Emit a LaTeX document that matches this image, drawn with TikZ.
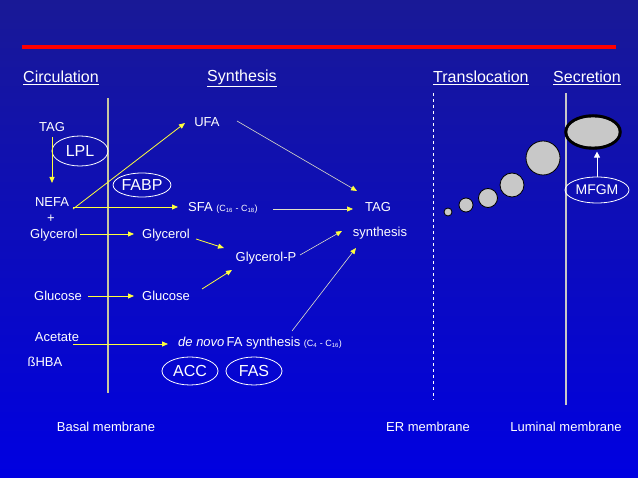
\documentclass[tikz,border=0pt]{standalone}
\usepackage{fontspec}
\setmainfont{Liberation Sans}
\usetikzlibrary{arrows.meta,shapes.geometric}
\definecolor{ylw}{RGB}{255,255,60}
\definecolor{lgray}{RGB}{200,200,200}
\definecolor{mem}{RGB}{200,200,160}
\definecolor{lline}{RGB}{225,225,200}
\begin{document}
\begin{tikzpicture}[x=1pt,y=-1pt,
  txt/.style={text=white,font=\fontsize{13}{15}\selectfont,inner sep=0pt},
  hdr/.style={text=white,font=\fontsize{16}{18}\selectfont,inner sep=0pt,anchor=west},
  enz/.style={draw=white,ellipse,thick,text=white,font=\fontsize{16}{18}\selectfont,inner sep=0pt},
  yarr/.style={draw=ylw,-{Triangle[length=6pt,width=5pt]},line width=0.8pt},
  garr/.style={draw=lline,-{Triangle[length=6pt,width=5pt,color=ylw]},line width=0.6pt},
  drop/.style={draw=black,fill=lgray,line width=0.8pt}]
\useasboundingbox (0,0) rectangle (638,478);
\shade[top color={rgb,255:red,25;green,25;blue,150},bottom color={rgb,255:red,0;green,0;blue,225}] (0,0) rectangle (638,478);
\draw[red,line width=4pt] (22,47) -- (616,47);
% headers
\node[hdr] (hc) at (23,78) {\underline{Circulation}};
\node[hdr] (hs) at (207,78) {\underline{Synthesis}};
\node[hdr] (ht) at (433,78) {\underline{Translocation}};
\node[hdr] (hse) at (553,78) {\underline{Secretion}};
% membranes
\draw[mem,line width=2.5pt] (108,98) -- (108,393);
\draw[white,dashed,line width=0.6pt] (433,93) -- (433,400);
\draw[lgray,line width=2.5pt] (566,93) -- (566,405);
% circulation
\node[txt] (tag) at (52,127) {TAG};
\node[enz,minimum width=56pt,minimum height=30pt] (lpl) at (80,151) {LPL};
\node[txt] (nefa) at (52,202) {NEFA};
\node[txt] (plus) at (51,219) {+};
\node[txt] (gly1) at (54,235) {Glycerol};
\node[txt] (glu1) at (58,296) {Glucose};
\node[txt] (ace) at (57,337) {Acetate};
\node[txt] (hba) at (45,362) {ßHBA};
\node[enz,minimum width=56pt,minimum height=24pt] (fabp) at (142,185) {FABP};
% synthesis
\node[txt] (ufa) at (207,122) {UFA};
\node[txt,anchor=west] (sfa) at (188,208) {SFA {\fontsize{9}{10}\selectfont(C\textsubscript{16} - C\textsubscript{18})}};
\node[txt] (tag2) at (378,207) {TAG};
\node[txt] (syn) at (380,233) {synthesis};
\node[txt] (gly2) at (166,235) {Glycerol};
\node[txt] (glyp) at (266,258) {Glycerol-P};
\node[txt] (glu2) at (166,296) {Glucose};
\node[txt,anchor=west] (dn) at (178,343) {\itshape de novo\upshape\,FA synthesis {\fontsize{9}{10}\selectfont(C\textsubscript{4} - C\textsubscript{16})}};
\node[enz,minimum width=56pt,minimum height=28pt] (acc) at (190,371) {ACC};
\node[enz,minimum width=56pt,minimum height=28pt] (fas) at (254,371) {FAS};
% coordinates
\coordinate (t0) at (52,137); \coordinate (t1) at (52,183);
\coordinate (n0) at (73,209); \coordinate (n1) at (73,207);
\coordinate (u1) at (185,123); \coordinate (s1) at (178,207);
\coordinate (g0) at (80,234); \coordinate (g1) at (134,234);
\coordinate (c0) at (88,296); \coordinate (c1) at (134,296);
\coordinate (a0) at (73,344); \coordinate (a1) at (168,344);
\coordinate (g2) at (196,239); \coordinate (g3) at (224,248);
\coordinate (c2) at (202,289); \coordinate (c3) at (232,270);
\coordinate (u2) at (237,121); \coordinate (u3) at (357,191);
\coordinate (s2) at (273,209); \coordinate (s3) at (353,209);
\coordinate (p0) at (300,255); \coordinate (p1) at (342,231);
\coordinate (d0) at (292,331); \coordinate (d1) at (356,248);
\draw[yarr] (t0) -- (t1);
\draw[yarr] (n0) -- (u1);
\draw[yarr] (n1) -- (s1);
\draw[yarr] (g0) -- (g1);
\draw[yarr] (c0) -- (c1);
\draw[yarr] (a0) -- (a1);
\draw[yarr] (g2) -- (g3);
\draw[yarr] (c2) -- (c3);
\draw[garr] (u2) -- (u3);
\draw[garr] (s2) -- (s3);
\draw[garr] (p0) -- (p1);
\draw[garr] (d0) -- (d1);
% droplets
\draw[drop] (448,212) circle (4);
\draw[drop] (466,205) circle (7);
\draw[drop] (488,198) circle (9.5);
\draw[drop] (512,185) circle (12);
\draw[drop] (543,158) circle (17);
\node[ellipse,draw=black,line width=3.5pt,minimum width=54pt,minimum height=32pt] (glob) at (593,132) {};
\node[ellipse,draw=lgray,fill=lgray,line width=1.2pt,minimum width=50pt,minimum height=28pt,inner sep=0pt] (globin) at (593,132) {};
\node[enz,minimum width=64pt,minimum height=26pt,font=\fontsize{14}{16}\selectfont] (mfgm) at (597,190) {MFGM};
\draw[white,-{Triangle[length=6pt,width=6pt]},line width=0.8pt] (mfgm.north) -- ++(0,-25);
% bottom labels
\node[txt] (bm) at (106,427) {Basal membrane};
\node[txt] (erm) at (428,427) {ER membrane};
\node[txt] (lm) at (566,427) {Luminal membrane};
\end{tikzpicture}
\end{document}
